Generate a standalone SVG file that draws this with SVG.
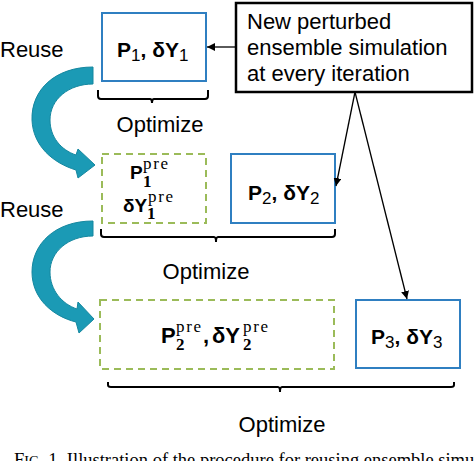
<svg xmlns="http://www.w3.org/2000/svg" width="474" height="461" viewBox="0 0 474 461">
<style>
.bg{fill:#ffffff}
.solid{fill:#ffffff;stroke:#2f7fc1;stroke-width:2}
.dash{fill:#ffffff;stroke:#9bbb59;stroke-width:2;stroke-dasharray:7 5}
.callout{fill:#ffffff;stroke:#000000;stroke-width:2.5}
.txt{font-family:"Liberation Sans",Arial,sans-serif;font-size:22px;fill:#000000}
.lbl{font-family:"Liberation Sans",Arial,sans-serif;font-size:21px;font-weight:bold;fill:#000000}
.sub{font-weight:normal;font-size:17px}
.plbl{font-family:"Liberation Sans",Arial,sans-serif;font-size:19px;font-weight:bold;fill:#000000}
.plbl2{font-family:"Liberation Sans",Arial,sans-serif;font-size:22px;font-weight:bold;fill:#000000}
.pre{font-family:"Liberation Serif","DejaVu Serif",serif;font-size:17px;font-weight:normal;fill:#000000}
.psub{font-family:"Liberation Serif","DejaVu Serif",serif;font-size:17px;font-weight:bold;fill:#000000}
.brace{fill:none;stroke:#000000;stroke-width:2}
.conn{fill:none;stroke:#000000;stroke-width:1.3}
.curve{fill:#1b9ab5;stroke:#15879f;stroke-width:1}
.cap{font-family:"Liberation Serif","Times New Roman",serif;font-size:18.5px;fill:#000000}
</style>
<defs>
<marker id="ah" viewBox="0 0 10 10" refX="10" refY="5" markerWidth="8" markerHeight="8" markerUnits="userSpaceOnUse" orient="auto">
<path d="M0,0 L10,5 L0,10 Z" fill="#000000"/>
</marker>
</defs>
<rect class="bg" x="0" y="0" width="474" height="461"/>

<g id="reuse-labels">
<text class="txt" x="0" y="57">Reuse</text>
<text class="txt" x="0" y="217">Reuse</text>
</g>

<g id="reuse-arrow-1">
<path class="curve" d="M93,67 C55,67 31,90 32,120 C33,146 53,163 76,170 L78,178 L95,165 L78,149 L76,155 C61,150 50,137 50,120 C50,99 69,84 93,84 Z"/>
</g>
<g id="reuse-arrow-2">
<path class="curve" d="M93,221 C55,221 32,244 32,272 C32,298 52,316 76,322 L79,333 L94,319 L78,302 L77,309 C62,304 50,290 50,272 C50,252 68,236 93,236 Z"/>
</g>

<g id="node-p1">
<rect class="solid" x="102" y="13" width="104" height="68"/>
<text class="lbl" x="117" y="57">P<tspan class="sub" dy="4">1</tspan><tspan dy="-4">, δY</tspan><tspan class="sub" dy="4">1</tspan></text>
</g>

<g id="node-callout">
<rect class="callout" x="236" y="3" width="236" height="89"/>
<text class="txt" x="247" y="29">New perturbed</text>
<text class="txt" x="247" y="55">ensemble simulation</text>
<text class="txt" x="247" y="81">at every iteration</text>
</g>

<g id="node-p1pre">
<rect class="dash" x="102" y="154" width="104" height="69"/>
<text class="plbl" x="130" y="179">P</text>
<text class="pre" x="143" y="169" textLength="25">pre</text>
<text class="psub" x="143" y="187">1</text>
<text class="plbl" x="123" y="212">δY</text>
<text class="pre" x="148" y="202" textLength="25">pre</text>
<text class="psub" x="147" y="219">1</text>
</g>

<g id="node-p2">
<rect class="solid" x="231" y="154" width="104" height="69"/>
<text class="lbl" x="248" y="200">P<tspan class="sub" dy="4">2</tspan><tspan dy="-4">, δY</tspan><tspan class="sub" dy="4">2</tspan></text>
</g>

<g id="node-p2pre">
<rect class="dash" x="100" y="300" width="234" height="69"/>
<text class="plbl2" x="161" y="343">P</text>
<text class="pre" x="176" y="332" textLength="25">pre</text>
<text class="psub" x="176" y="350">2</text>
<text class="plbl2" x="203" y="343">,</text>
<text class="plbl2" x="212" y="343">δY</text>
<text class="pre" x="243" y="332" textLength="25">pre</text>
<text class="psub" x="243" y="350">2</text>
</g>

<g id="node-p3">
<rect class="solid" x="356" y="300" width="104" height="68"/>
<text class="lbl" x="371" y="344">P<tspan class="sub" dy="4">3</tspan><tspan dy="-4">, δY</tspan><tspan class="sub" dy="4">3</tspan></text>
</g>

<g id="optimize">
<path class="brace" d="M98,90 L98,96 Q98,99 101,99 L150,99 Q152,99 152,103 Q152,99 154,99 L205,99 Q208,99 208,96 L208,90"/>
<text class="txt" x="160" y="132" text-anchor="middle">Optimize</text>
<path class="brace" d="M101,229 L101,234 Q101,237 104,237 L214,237 Q216,237 216,242 Q216,237 218,237 L332,237 Q335,237 335,234 L335,229"/>
<text class="txt" x="206" y="279" text-anchor="middle">Optimize</text>
<path class="brace" d="M108,382 L108,385 Q108,387 111,387 L278,387 Q280,387 280,392 Q280,387 282,387 L451,387 Q454,387 454,385 L454,382"/>
<text class="txt" x="282" y="432" text-anchor="middle">Optimize</text>
</g>

<g id="connectors">
<line class="conn" x1="236" y1="47" x2="207" y2="47" marker-end="url(#ah)"/>
<line class="conn" x1="355" y1="92" x2="336" y2="186" marker-end="url(#ah)"/>
<line class="conn" x1="355" y1="92" x2="407" y2="299" marker-end="url(#ah)"/>
</g>

<g id="caption">
<text class="cap" x="14" y="466">F<tspan font-size="14">IG</tspan>. 1. Illustration of the procedure for reusing ensemble simu</text>
</g>
</svg>
